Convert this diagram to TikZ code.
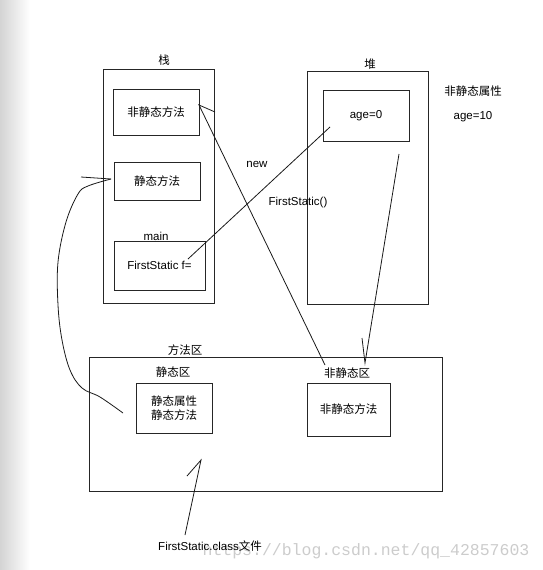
\documentclass[tikz,border=0pt]{standalone}
\usepackage{fontspec}
\setmainfont{Liberation Sans}
\newfontfamily\cjk{Noto Sans CJK SC}
\newfontfamily\wmfont{Liberation Mono}
\begin{document}
\begin{tikzpicture}[x=1pt,y=-1pt,
  box/.style={draw=black!85, line width=0.9pt, inner sep=0pt, font=\fontsize{11.5}{15}\selectfont},
  lbl/.style={inner sep=0pt, font=\fontsize{11.5}{15}\selectfont},
  conn/.style={draw=black!90, line width=0.8pt}]
\useasboundingbox (0,0) rectangle (542,570);
\shade[left color=black!17, right color=white] (0,0) rectangle (30,570);
% watermark (behind)
\node[inner sep=0pt, text=black!20, font=\wmfont\fontsize{16.5}{18}\selectfont] (wm) at (366,551) {https://blog.csdn.net/qq\_42857603};
% stack
\node[box, minimum width=111pt, minimum height=234pt] (stack) at (158.5,186) {};
\node[box, minimum width=86pt, minimum height=46pt] (nsm) at (156,112) {\cjk 非静态方法};
\node[box, minimum width=86pt, minimum height=38pt] (sm) at (157,181) {\cjk 静态方法};
\node[box, minimum width=91pt, minimum height=49pt] (fsf) at (159.5,265.5) {FirstStatic f=};
\node[lbl] (stackl) at (164,60) {\cjk 栈};
\node[lbl] (mainl) at (156,236) {main};
% heap
\node[box, minimum width=121pt, minimum height=233pt] (heap) at (367.5,187.5) {};
\node[box, minimum width=86pt, minimum height=51pt] (age) at (366,115.5) {age=0};
\node[lbl] (heapl) at (370,64) {\cjk 堆};
\node[lbl] (nsattr) at (473,91) {\cjk 非静态属性};
\node[lbl] (age10) at (473,117) {age=10};
\node[lbl] (newl) at (257,164) {new};
\node[lbl] (fsl) at (298,203) {FirstStatic()};
% method area
\node[box, minimum width=353pt, minimum height=134pt] (ma) at (265.5,424) {};
\node[lbl] (mal) at (185,350) {\cjk 方法区};
\node[lbl] (sal) at (173,372) {\cjk 静态区};
\node[box, minimum width=76pt, minimum height=50pt, align=center] (sbox) at (174,408) {\cjk 静态属性\\[-1pt]\cjk 静态方法};
\node[lbl] (nsal) at (347,373) {\cjk 非静态区};
\node[box, minimum width=83pt, minimum height=53pt] (nsbox) at (348.5,409.5) {\cjk 非静态方法};
\node[lbl] (classl) at (210,546) {FirstStatic.class{\cjk 文件}};
% connector coordinates
\coordinate (c1a) at (330,127);
\coordinate (c1b) at (188,259);
\coordinate (c2a) at (325,365);
\coordinate (c2b) at (199,105);
\coordinate (c2h) at (215,112);
\coordinate (c3a) at (399,154);
\coordinate (c3b) at (365,363);
\coordinate (c3h) at (362,338);
\coordinate (c4a) at (123,413);
\coordinate (c4b) at (111,179);
\coordinate (c4h) at (81,177);
\coordinate (c5a) at (185,535);
\coordinate (c5b) at (201,460);
\coordinate (c5h) at (187,476);
% connectors
\draw[conn] (c1a) -- (c1b);
\draw[conn] (c2a) -- (c2b) -- (c2h);
\draw[conn] (c3a) -- (c3b) -- (c3h);
\draw[conn] plot[smooth, tension=0.6] coordinates {(c4a) (100,397) (82,388) (70,370) (62,340) (58,305) (58,262) (66,222) (78,194) (88,186) (c4b)};
\draw[conn] (c4h) -- (c4b);
\draw[conn] (c5a) -- (c5b) -- (c5h);
\end{tikzpicture}
\end{document}
